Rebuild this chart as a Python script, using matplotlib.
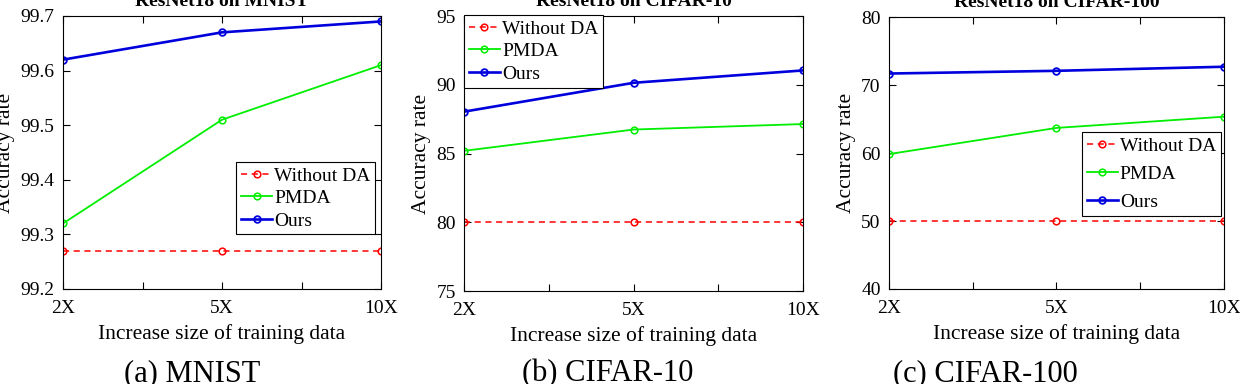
import numpy as np
import matplotlib
matplotlib.use('Agg')
import matplotlib.pyplot as plt

plt.rcParams['font.family'] = ['Liberation Serif', 'DejaVu Serif']

# data
sizes = ['2X', '5X', '10X']
series = ['Without DA', 'PMDA', 'Ours']

mnist_wo = [99.27, 99.27, 99.27]
mnist_pmda = [99.32, 99.51, 99.61]
mnist_ours = [99.62, 99.67, 99.69]

c10_wo = [80.0, 80.0, 80.0]
c10_pmda = [85.2, 86.75, 87.15]
c10_ours = [88.05, 90.15, 91.05]

c100_wo = [49.95, 49.95, 49.95]
c100_pmda = [59.85, 63.7, 65.35]
c100_ours = [71.7, 72.1, 72.7]

titles = ['ResNet18 on MNIST', 'ResNet18 on CIFAR-10', 'ResNet18 on CIFAR-100']
captions = ['(a) MNIST', '(b) CIFAR-10', '(c) CIFAR-100']
yticks = [np.arange(99.2, 99.71, 0.1), np.arange(75, 96, 5), np.arange(40, 81, 10)]
ylims = [(99.2, 99.7), (75, 95), (40, 80)]
data = [(mnist_wo, mnist_pmda, mnist_ours),
        (c10_wo, c10_pmda, c10_ours),
        (c100_wo, c100_pmda, c100_ours)]

fig = plt.figure(figsize=(12.4, 3.84), dpi=100)
rects = [[0.0508, 0.2474, 0.2565, 0.711],
         [0.3742, 0.2420, 0.2734, 0.716],
         [0.7170, 0.2474, 0.2700, 0.708]]
leg_anchor = [(0.545, 0.2), (0.0, 1.003), (0.576, 0.268)]
leg_loc = ['lower left', 'upper left', 'lower left']
leg_space = [0.25, 0.25, 0.55]
caption_x = [0.155, 0.49, 0.795]

x = np.arange(1, len(sizes) + 1)
for i in range(3):
    ax = fig.add_axes(rects[i])
    wo, pm, ours = data[i]
    ax.plot(x, wo, '--o', color='#ff0000', lw=1.1, ms=4.8, mfc='none', mew=1.1, label=series[0], dashes=(4, 3))
    ax.plot(x, pm, '-o', color='#00ee00', lw=1.3, ms=4.8, mfc='none', mew=1.1, label=series[1])
    ax.plot(x, ours, '-o', color='#0000dd', lw=1.9, ms=4.8, mfc='none', mew=1.3, label=series[2])
    ax.set_xlim(1, 3)
    ax.set_ylim(*ylims[i])
    ax.set_xticks([1, 1.5, 2, 2.5, 3])
    ax.set_xticklabels([sizes[0], '', sizes[1], '', sizes[2]])
    ax.set_yticks(yticks[i])
    if i == 0:
        ax.set_yticklabels(['%.1f' % v for v in yticks[i]])
    ax.tick_params(direction='in', top=True, right=True, labelsize=14, length=5, width=0.8, pad=6)
    ax.tick_params(axis='x', pad=8)
    for s in ax.spines.values():
        s.set_linewidth(0.8)
    ax.set_xlabel('Increase size of training data', fontsize=15.5, labelpad=5)
    ax.set_ylabel('Accuracy rate', fontsize=15.5, labelpad=4)
    ax.set_title(titles[i], fontsize=14, fontweight='bold', pad=7)
    leg = ax.legend(loc=leg_loc[i], bbox_to_anchor=leg_anchor[i], fontsize=14, frameon=True,
                    fancybox=False, edgecolor='black', framealpha=1, borderpad=0.25,
                    labelspacing=leg_space[i], handlelength=1.6, handletextpad=0.1, borderaxespad=0)
    leg.get_frame().set_linewidth(0.8)
    fig.text(caption_x[i], 0.008, captions[i], fontsize=22, ha='center', va='baseline')

fig.savefig('out.png', dpi=100)
